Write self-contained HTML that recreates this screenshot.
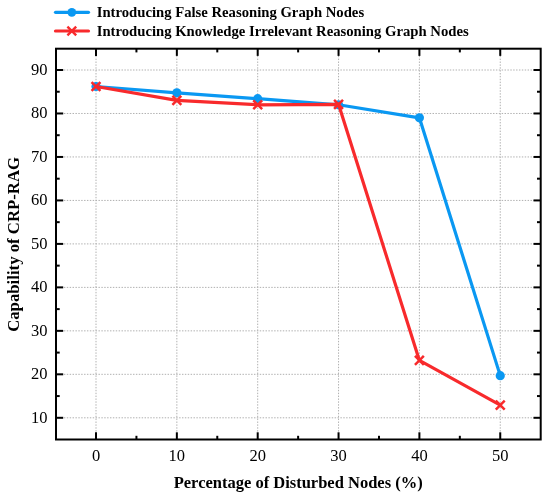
<!DOCTYPE html>
<html><head><meta charset="utf-8"><title>Capability of CRP-RAG</title>
<style>
html,body{margin:0;padding:0;background:#fff;}
svg{display:block;}
.g{stroke:#b0b0b0;stroke-width:1;stroke-dasharray:1.44 1.44;stroke-dashoffset:0.72;fill:none;}
.t{stroke:#000;stroke-width:2;}
.tl{font-family:"Liberation Serif",serif;font-size:16.5px;fill:#000;}
.al{font-family:"Liberation Serif",serif;font-weight:bold;font-size:16.5px;fill:#000;}
.lg{font-family:"Liberation Serif",serif;font-weight:bold;font-size:14.7px;fill:#000;}
</style></head>
<body>
<svg width="550" height="497" viewBox="0 0 550 497">
<rect width="550" height="497" fill="#fff"/>
<line x1="96.00" y1="439.5" x2="96.00" y2="48.7" class="g"/>
<line x1="176.85" y1="439.5" x2="176.85" y2="48.7" class="g"/>
<line x1="257.70" y1="439.5" x2="257.70" y2="48.7" class="g"/>
<line x1="338.55" y1="439.5" x2="338.55" y2="48.7" class="g"/>
<line x1="419.40" y1="439.5" x2="419.40" y2="48.7" class="g"/>
<line x1="500.25" y1="439.5" x2="500.25" y2="48.7" class="g"/>
<line x1="56.0" y1="417.80" x2="540.7" y2="417.80" class="g"/>
<line x1="56.0" y1="374.32" x2="540.7" y2="374.32" class="g"/>
<line x1="56.0" y1="330.85" x2="540.7" y2="330.85" class="g"/>
<line x1="56.0" y1="287.38" x2="540.7" y2="287.38" class="g"/>
<line x1="56.0" y1="243.90" x2="540.7" y2="243.90" class="g"/>
<line x1="56.0" y1="200.43" x2="540.7" y2="200.43" class="g"/>
<line x1="56.0" y1="156.95" x2="540.7" y2="156.95" class="g"/>
<line x1="56.0" y1="113.47" x2="540.7" y2="113.47" class="g"/>
<line x1="56.0" y1="70.00" x2="540.7" y2="70.00" class="g"/>
<polyline points="96.00,86.52 176.85,92.82 257.70,98.69 338.55,104.78 419.40,117.82 500.25,375.63" fill="none" stroke="#0a98f2" stroke-width="3.2" stroke-linejoin="round"/>
<circle cx="96.00" cy="86.52" r="4.6" fill="#0a98f2"/>
<circle cx="176.85" cy="92.82" r="4.6" fill="#0a98f2"/>
<circle cx="257.70" cy="98.69" r="4.6" fill="#0a98f2"/>
<circle cx="338.55" cy="104.78" r="4.6" fill="#0a98f2"/>
<circle cx="419.40" cy="117.82" r="4.6" fill="#0a98f2"/>
<circle cx="500.25" cy="375.63" r="4.6" fill="#0a98f2"/>
<polyline points="96.00,86.52 176.85,100.43 257.70,104.78 338.55,104.35 419.40,360.41 500.25,405.19" fill="none" stroke="#f82a2c" stroke-width="3.2" stroke-linejoin="round"/>
<path d="M91.55,82.07L100.45,90.97M91.55,90.97L100.45,82.07" stroke="#f82a2c" stroke-width="2.5" fill="none"/>
<path d="M172.40,95.98L181.30,104.88M172.40,104.88L181.30,95.98" stroke="#f82a2c" stroke-width="2.5" fill="none"/>
<path d="M253.25,100.33L262.15,109.23M253.25,109.23L262.15,100.33" stroke="#f82a2c" stroke-width="2.5" fill="none"/>
<path d="M334.10,99.90L343.00,108.80M334.10,108.80L343.00,99.90" stroke="#f82a2c" stroke-width="2.5" fill="none"/>
<path d="M414.95,355.96L423.85,364.86M414.95,364.86L423.85,355.96" stroke="#f82a2c" stroke-width="2.5" fill="none"/>
<path d="M495.80,400.74L504.70,409.64M495.80,409.64L504.70,400.74" stroke="#f82a2c" stroke-width="2.5" fill="none"/>
<rect x="56.0" y="48.7" width="484.70000000000005" height="390.8" fill="none" stroke="#000" stroke-width="2.0"/>
<line x1="96.00" y1="439.5" x2="96.00" y2="432.3" class="t"/>
<line x1="96.00" y1="48.7" x2="96.00" y2="55.900000000000006" class="t"/>
<line x1="136.43" y1="439.5" x2="136.43" y2="435.8" class="t"/>
<line x1="136.43" y1="48.7" x2="136.43" y2="52.400000000000006" class="t"/>
<line x1="176.85" y1="439.5" x2="176.85" y2="432.3" class="t"/>
<line x1="176.85" y1="48.7" x2="176.85" y2="55.900000000000006" class="t"/>
<line x1="217.28" y1="439.5" x2="217.28" y2="435.8" class="t"/>
<line x1="217.28" y1="48.7" x2="217.28" y2="52.400000000000006" class="t"/>
<line x1="257.70" y1="439.5" x2="257.70" y2="432.3" class="t"/>
<line x1="257.70" y1="48.7" x2="257.70" y2="55.900000000000006" class="t"/>
<line x1="298.12" y1="439.5" x2="298.12" y2="435.8" class="t"/>
<line x1="298.12" y1="48.7" x2="298.12" y2="52.400000000000006" class="t"/>
<line x1="338.55" y1="439.5" x2="338.55" y2="432.3" class="t"/>
<line x1="338.55" y1="48.7" x2="338.55" y2="55.900000000000006" class="t"/>
<line x1="378.98" y1="439.5" x2="378.98" y2="435.8" class="t"/>
<line x1="378.98" y1="48.7" x2="378.98" y2="52.400000000000006" class="t"/>
<line x1="419.40" y1="439.5" x2="419.40" y2="432.3" class="t"/>
<line x1="419.40" y1="48.7" x2="419.40" y2="55.900000000000006" class="t"/>
<line x1="459.83" y1="439.5" x2="459.83" y2="435.8" class="t"/>
<line x1="459.83" y1="48.7" x2="459.83" y2="52.400000000000006" class="t"/>
<line x1="500.25" y1="439.5" x2="500.25" y2="432.3" class="t"/>
<line x1="500.25" y1="48.7" x2="500.25" y2="55.900000000000006" class="t"/>
<line x1="56.0" y1="417.80" x2="63.2" y2="417.80" class="t"/>
<line x1="540.7" y1="417.80" x2="533.5" y2="417.80" class="t"/>
<line x1="56.0" y1="396.06" x2="59.7" y2="396.06" class="t"/>
<line x1="540.7" y1="396.06" x2="537.0" y2="396.06" class="t"/>
<line x1="56.0" y1="374.32" x2="63.2" y2="374.32" class="t"/>
<line x1="540.7" y1="374.32" x2="533.5" y2="374.32" class="t"/>
<line x1="56.0" y1="352.59" x2="59.7" y2="352.59" class="t"/>
<line x1="540.7" y1="352.59" x2="537.0" y2="352.59" class="t"/>
<line x1="56.0" y1="330.85" x2="63.2" y2="330.85" class="t"/>
<line x1="540.7" y1="330.85" x2="533.5" y2="330.85" class="t"/>
<line x1="56.0" y1="309.11" x2="59.7" y2="309.11" class="t"/>
<line x1="540.7" y1="309.11" x2="537.0" y2="309.11" class="t"/>
<line x1="56.0" y1="287.38" x2="63.2" y2="287.38" class="t"/>
<line x1="540.7" y1="287.38" x2="533.5" y2="287.38" class="t"/>
<line x1="56.0" y1="265.64" x2="59.7" y2="265.64" class="t"/>
<line x1="540.7" y1="265.64" x2="537.0" y2="265.64" class="t"/>
<line x1="56.0" y1="243.90" x2="63.2" y2="243.90" class="t"/>
<line x1="540.7" y1="243.90" x2="533.5" y2="243.90" class="t"/>
<line x1="56.0" y1="222.16" x2="59.7" y2="222.16" class="t"/>
<line x1="540.7" y1="222.16" x2="537.0" y2="222.16" class="t"/>
<line x1="56.0" y1="200.43" x2="63.2" y2="200.43" class="t"/>
<line x1="540.7" y1="200.43" x2="533.5" y2="200.43" class="t"/>
<line x1="56.0" y1="178.69" x2="59.7" y2="178.69" class="t"/>
<line x1="540.7" y1="178.69" x2="537.0" y2="178.69" class="t"/>
<line x1="56.0" y1="156.95" x2="63.2" y2="156.95" class="t"/>
<line x1="540.7" y1="156.95" x2="533.5" y2="156.95" class="t"/>
<line x1="56.0" y1="135.21" x2="59.7" y2="135.21" class="t"/>
<line x1="540.7" y1="135.21" x2="537.0" y2="135.21" class="t"/>
<line x1="56.0" y1="113.47" x2="63.2" y2="113.47" class="t"/>
<line x1="540.7" y1="113.47" x2="533.5" y2="113.47" class="t"/>
<line x1="56.0" y1="91.74" x2="59.7" y2="91.74" class="t"/>
<line x1="540.7" y1="91.74" x2="537.0" y2="91.74" class="t"/>
<line x1="56.0" y1="70.00" x2="63.2" y2="70.00" class="t"/>
<line x1="540.7" y1="70.00" x2="533.5" y2="70.00" class="t"/>
<text x="96.00" y="461" class="tl" text-anchor="middle">0</text>
<text x="176.85" y="461" class="tl" text-anchor="middle">10</text>
<text x="257.70" y="461" class="tl" text-anchor="middle">20</text>
<text x="338.55" y="461" class="tl" text-anchor="middle">30</text>
<text x="419.40" y="461" class="tl" text-anchor="middle">40</text>
<text x="500.25" y="461" class="tl" text-anchor="middle">50</text>
<text x="47.4" y="422.50" class="tl" text-anchor="end">10</text>
<text x="47.4" y="379.02" class="tl" text-anchor="end">20</text>
<text x="47.4" y="335.55" class="tl" text-anchor="end">30</text>
<text x="47.4" y="292.07" class="tl" text-anchor="end">40</text>
<text x="47.4" y="248.60" class="tl" text-anchor="end">50</text>
<text x="47.4" y="205.12" class="tl" text-anchor="end">60</text>
<text x="47.4" y="161.65" class="tl" text-anchor="end">70</text>
<text x="47.4" y="118.17" class="tl" text-anchor="end">80</text>
<text x="47.4" y="74.70" class="tl" text-anchor="end">90</text>
<text x="298.2" y="488" class="al" text-anchor="middle">Percentage of Disturbed Nodes (%)</text>
<text transform="translate(18.6,244.4) rotate(-90)" class="al" style="font-size:16.75px" text-anchor="middle">Capability of CRP-RAG</text>
<line x1="55.5" y1="12.3" x2="88.5" y2="12.3" stroke="#0a98f2" stroke-width="3.2" stroke-linecap="round"/>
<circle cx="71.8" cy="12.3" r="4.4" fill="#0a98f2"/>
<line x1="55.5" y1="31" x2="88.5" y2="31" stroke="#f82a2c" stroke-width="3.2" stroke-linecap="round"/>
<path d="M67.40,26.60L76.20,35.40M67.40,35.40L76.20,26.60" stroke="#f82a2c" stroke-width="2.4" fill="none"/>
<text x="96.7" y="16.7" class="lg">Introducing False Reasoning Graph Nodes</text>
<text x="96.7" y="35.8" class="lg">Introducing Knowledge Irrelevant Reasoning Graph Nodes</text>
</svg>
</body></html>
